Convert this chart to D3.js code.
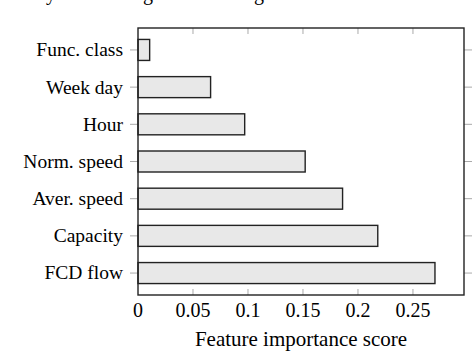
<!DOCTYPE html>
<html>
<head>
<meta charset="utf-8">
<script src="https://cdn.jsdelivr.net/npm/d3@7"></script>
<style>
  html, body { margin: 0; padding: 0; background: #fff; }
  svg { display: block; }
  text { font-family: "Liberation Serif", "DejaVu Serif", serif; fill: #000; }
</style>
</head>
<body>
<svg id="chart"></svg>
<script>
// Feature importance, horizontal bars (top to bottom)
const features = ["Func. class", "Week day", "Hour", "Norm. speed", "Aver. speed", "Capacity", "FCD flow"];
const scores = [0.0106, 0.066, 0.097, 0.152, 0.186, 0.218, 0.270];
const xTicks = [0, 0.05, 0.1, 0.15, 0.2, 0.25];
const xLabel = "Feature importance score";

const width = 474, height = 351;
const margin = {top: 28, right: 10, bottom: 56, left: 138};

const svg = d3.select("#chart")
    .attr("width", width)
    .attr("height", height);

// descenders of the text line cut off above the figure
svg.append("g").selectAll("text")
    .data([{c: "y", x: 46}, {c: "g", x: 143}, {c: "g", x: 254}])
    .enter().append("text")
    .attr("x", d => d.x)
    .attr("y", 0)
    .style("font-size", "20px")
    .text(d => d.c);

const x = d3.scaleLinear()
    .domain([0, 0.2964])
    .range([margin.left, width - margin.right]);

const y = d3.scalePoint()
    .domain(features)
    .range([margin.top, height - margin.bottom])
    .padding(0.59);

const barH = 21;
const tickCol = "#aaa";

// ticks on top and bottom point inward, y ticks point outward on both sides
svg.append("g")
    .selectAll("line")
    .data(xTicks.filter(t => t > 0))
    .enter().append("line")
    .attr("x1", d => x(d)).attr("x2", d => x(d))
    .attr("y1", margin.top).attr("y2", margin.top + 6)
    .attr("stroke", tickCol);

svg.append("g")
    .selectAll("line")
    .data(xTicks.filter(t => t > 0))
    .enter().append("line")
    .attr("x1", d => x(d)).attr("x2", d => x(d))
    .attr("y1", height - margin.bottom).attr("y2", height - margin.bottom - 6)
    .attr("stroke", tickCol);

svg.append("g")
    .selectAll("line")
    .data(features)
    .enter().append("line")
    .attr("x1", margin.left - 8).attr("x2", margin.left)
    .attr("y1", d => y(d)).attr("y2", d => y(d))
    .attr("stroke", tickCol);

svg.append("g")
    .selectAll("line")
    .data(features)
    .enter().append("line")
    .attr("x1", width - margin.right).attr("x2", width - margin.right + 8)
    .attr("y1", d => y(d)).attr("y2", d => y(d))
    .attr("stroke", tickCol);

// bars
svg.append("g")
    .selectAll("rect")
    .data(features)
    .enter().append("rect")
    .attr("x", x(0))
    .attr("y", d => y(d) - barH / 2)
    .attr("width", (d, i) => x(scores[i]) - x(0))
    .attr("height", barH)
    .attr("fill", "#e8e8e8")
    .attr("stroke", "#222")
    .attr("stroke-width", 1.4);

// frame
svg.append("rect")
    .attr("x", margin.left)
    .attr("y", margin.top)
    .attr("width", width - margin.right - margin.left)
    .attr("height", height - margin.bottom - margin.top)
    .attr("fill", "none")
    .attr("stroke", "#222")
    .attr("stroke-width", 1.4);

// labels
svg.append("g")
    .selectAll("text")
    .data(features)
    .enter().append("text")
    .attr("x", margin.left - 15)
    .attr("y", d => y(d))
    .attr("dy", "0.33em")
    .attr("text-anchor", "end")
    .style("font-size", "19.5px")
    .text(d => d);

svg.append("g")
    .selectAll("text")
    .data(xTicks)
    .enter().append("text")
    .attr("x", d => x(d))
    .attr("y", 317)
    .attr("text-anchor", "middle")
    .style("font-size", "20px")
    .text(d => d3.format("")(d));

svg.append("text")
    .attr("x", (x(0) + x(0.2964)) / 2)
    .attr("y", 346)
    .attr("text-anchor", "middle")
    .style("font-size", "21px")
    .text(xLabel);
</script>
</body>
</html>
